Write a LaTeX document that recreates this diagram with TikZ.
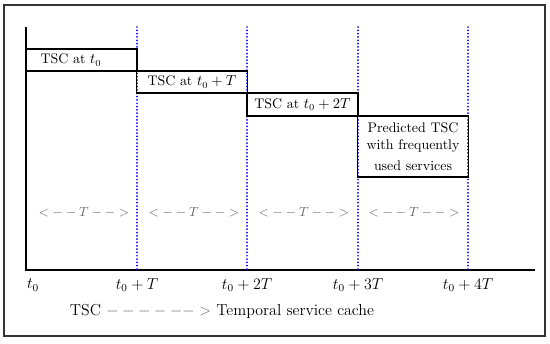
\documentclass[tikz,border=0pt]{standalone}
\usetikzlibrary{positioning}
\begin{document}
\begin{tikzpicture}[x=0.0265cm, y=-0.0265cm,
  cachebox/.style={draw, line width=0.8pt, minimum width=111*0.0265cm, inner sep=2pt, font=\fontsize{10.5}{13}\selectfont},
  tick/.style={blue, line cap=round, dash pattern=on 0pt off 2.5pt, line width=1.5pt},
  span/.style={text=black!60, font=\fontsize{10.2}{13}\selectfont},
  timelabel/.style={inner sep=1pt, font=\large}]
\useasboundingbox (0,0) rectangle (550,343);
\draw[line width=1pt, black!80] (4,5) rectangle (545,336);
% axes
\coordinate (top) at (26,27);
\coordinate (origin) at (26,270);
\coordinate (right) at (535,270);
\draw[line width=0.8pt] (top) -- (origin) -- (right);
% period borders
\foreach \k/\x in {1/137,2/247,3/358,4/468} {
  \coordinate (b\k) at (\x,27);
  \coordinate (f\k) at (\x,270);
  \draw[tick] (b\k) -- (f\k);
}
% caches
\node[cachebox, minimum height=22*0.0265cm, text width=111*0.0265cm-22pt, inner xsep=9pt, align=left] (c0) at (81.5,60) {TSC at $t_0$};
\node[cachebox, minimum height=22*0.0265cm] (c1) at (192,82) {TSC at $t_0+T$};
\node[cachebox, minimum height=23*0.0265cm] (c2) at (302.5,104.5) {TSC at $t_0+2T$};
\node[cachebox, minimum height=61*0.0265cm, align=center, inner sep=1pt] (c3) at (413,146.5) {Predicted TSC\\with frequently\\[3pt]used services};
% periods
\node[span] (p1) at (84,213) {$<--T-->$};
\node[span] (p2) at (194,213) {$<--T-->$};
\node[span] (p3) at (304,213) {$<--T-->$};
\node[span] (p4) at (414,213) {$<--T-->$};
% time labels
\node[timelabel] (t0) at (33,285) {$t_0$};
\node[timelabel] (t1) at (137,285) {$t_0+T$};
\node[timelabel] (t2) at (247,285) {$t_0+2T$};
\node[timelabel] (t3) at (358,285) {$t_0+3T$};
\node[timelabel] (t4) at (468,285) {$t_0+4T$};
% legend
\node[font=\large] (legend) at (222,311) {TSC \textcolor{black!60}{$------>$} Temporal service cache};
\end{tikzpicture}
\end{document}
